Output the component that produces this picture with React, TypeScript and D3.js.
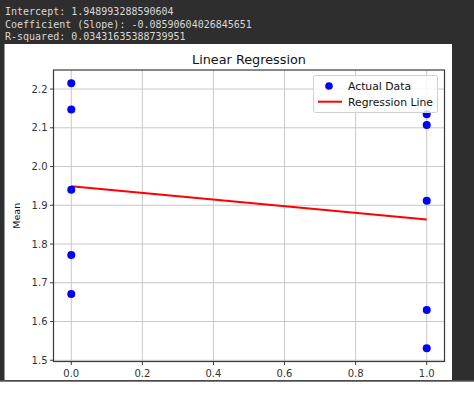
import React from "react";
import * as d3 from "d3";

const xGroup0 = [0, 0, 0, 0, 0];
const yGroup0 = [2.215, 2.147, 1.94, 1.772, 1.671];
const xGroup1 = [1, 1, 1, 1, 1];
const yGroup1 = [2.135, 2.107, 1.912, 1.63, 1.531];
const intercept = 1.948993288590604;
const slope = -0.08590604026845651;
const xTicks = [0.0, 0.2, 0.4, 0.6, 0.8, 1.0];
const yTicks = [1.5, 1.6, 1.7, 1.8, 1.9, 2.0, 2.1, 2.2];
const consoleLines = [
  "Intercept: 1.948993288590604",
  "Coefficient (Slope): -0.08590604026845651",
  "R-squared: 0.03431635388739951",
];

export default function App() {
  const W = 474, H = 408;
  const left = 53.5, right = 444.5, top = 70, bottom = 361.5;
  const xs = d3.scaleLinear().domain([-0.05, 1.05]).range([left, right]);
  const allY = [...yGroup0, ...yGroup1];
  const ymin = d3.min(allY)!, ymax = d3.max(allY)!;
  const pad = (ymax - ymin) * 0.05;
  const ys = d3.scaleLinear().domain([ymin - pad, ymax + pad]).range([bottom, top]);
  const pts = [
    ...xGroup0.map((x, i) => [x, yGroup0[i]]),
    ...xGroup1.map((x, i) => [x, yGroup1[i]]),
  ];
  const lineGen = d3.line<number>().x((x) => xs(x)).y((x) => ys(intercept + slope * x));
  const font = "DejaVu Sans, sans-serif";
  const tickColor = "#333";
  return (
    <svg width={W} height={H} style={{ position: "absolute", left: 0, top: 0 }}>
      <rect x={0} y={0} width={W} height={H} fill="#ffffff" />
      <rect x={0} y={0} width={W} height={381} fill="#2e2e2e" />
      <rect x={4.5} y={44} width={447.5} height={336} fill="#ffffff" />
      <line x1={0} x2={W} y1={381} y2={381} stroke="#555" strokeWidth={1.5} />
      {consoleLines.map((t, i) => (
        <text key={i} x={5} y={15 + i * 12.5} fontFamily="DejaVu Sans Mono, monospace" fontSize={10} fill="#d8d8d8">
          {t}
        </text>
      ))}
      {xTicks.map((t) => (
        <line key={"gx" + t} x1={xs(t)} x2={xs(t)} y1={top} y2={bottom} stroke="#c8c8c8" strokeWidth={1} />
      ))}
      {yTicks.map((t) => (
        <line key={"gy" + t} x1={left} x2={right} y1={ys(t)} y2={ys(t)} stroke="#c8c8c8" strokeWidth={1} />
      ))}
      <path d={lineGen([0, 1])!} stroke="#ff0000" strokeWidth={2} fill="none" />
      {pts.map(([x, y], i) => (
        <circle key={i} cx={xs(x)} cy={ys(y)} r={4} fill="#0000ff" />
      ))}
      <rect x={left} y={top} width={right - left} height={bottom - top} fill="none" stroke="#3a3a3a" strokeWidth={1.2} />
      {xTicks.map((t) => (
        <g key={"tx" + t}>
          <line x1={xs(t)} x2={xs(t)} y1={bottom} y2={bottom + 3.5} stroke="#3a3a3a" />
          <text x={xs(t)} y={bottom + 15} textAnchor="middle" fontFamily={font} fontSize={10} fill={tickColor}>
            {t.toFixed(1)}
          </text>
        </g>
      ))}
      {yTicks.map((t) => (
        <g key={"ty" + t}>
          <line x1={left - 3.5} x2={left} y1={ys(t)} y2={ys(t)} stroke="#3a3a3a" />
          <text x={left - 6} y={ys(t) + 3.6} textAnchor="end" fontFamily={font} fontSize={10} fill={tickColor}>
            {t.toFixed(1)}
          </text>
        </g>
      ))}
      <text transform={`translate(20, ${(top + bottom) / 2}) rotate(-90)`} textAnchor="middle" fontFamily={font} fontSize={9.5} fill="#111">
        Mean
      </text>
      <text x={(left + right) / 2} y={64} textAnchor="middle" fontFamily={font} fontSize={12.8} fill="#111">
        Linear Regression
      </text>
      <rect x={313.5} y={75.5} width={124} height={37} rx={2} fill="#ffffff" fillOpacity={0.8} stroke="#d0d0d0" />
      <circle cx={329} cy={86} r={3.8} fill="#0000ff" />
      <text x={348} y={89.8} fontFamily={font} fontSize={10.8} fill="#111">Actual Data</text>
      <line x1={318} x2={342} y1={101.7} y2={101.7} stroke="#ff0000" strokeWidth={2} />
      <text x={348} y={105.5} fontFamily={font} fontSize={10.8} fill="#111">Regression Line</text>
    </svg>
  );
}
